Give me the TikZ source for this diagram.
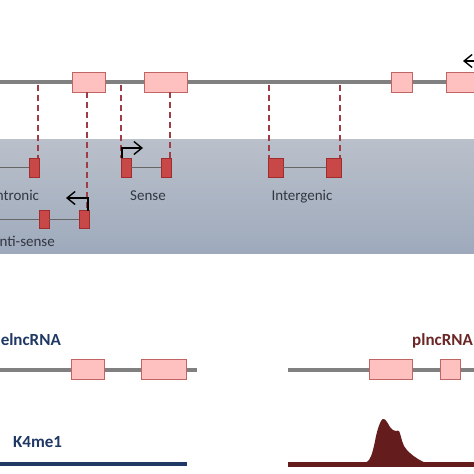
\documentclass[tikz,border=0pt]{standalone}
\usepackage{fontspec}
\setmainfont{Carlito}
\usetikzlibrary{arrows.meta}
\definecolor{geneline}{RGB}{128,128,128}
\definecolor{exonfill}{RGB}{255,192,192}
\definecolor{exonedge}{RGB}{192,100,100}
\definecolor{smfill}{RGB}{200,72,72}
\definecolor{smedge}{RGB}{160,45,45}
\definecolor{dashcol}{RGB}{160,60,70}
\definecolor{bandtop}{RGB}{186,192,202}
\definecolor{bandbot}{RGB}{158,170,188}
\definecolor{navy}{RGB}{31,56,100}
\definecolor{brownred}{RGB}{107,38,38}
\definecolor{peakcol}{RGB}{100,28,28}
\definecolor{txtcol}{RGB}{50,55,65}
\begin{document}
\begin{tikzpicture}[x=1pt,y=-1pt,
  exon/.style={draw=exonedge,fill=exonfill,line width=0.8pt,minimum height=20pt,inner sep=0pt},
  small/.style={draw=smedge,fill=smfill,line width=0.8pt,minimum height=19pt,minimum width=10pt,inner sep=0pt},
  gline/.style={draw=geneline,line width=4.5pt},
  thin/.style={draw=geneline!80!black,line width=0.9pt},
  dashl/.style={draw=dashcol,line width=1.6pt,dash pattern=on 6pt off 4pt},
  bent/.style={draw=black,line width=1.4pt,-{Straight Barb[length=8pt,width=13pt]}},
  lab/.style={font=\fontsize{15}{18}\selectfont,text=txtcol,inner sep=0pt},
  blab/.style={font=\fontsize{17}{20}\selectfont\bfseries,inner sep=0pt}
]
\useasboundingbox (0,0) rectangle (474,474);
\clip (0,0) rectangle (474,474);
% band
\shade[top color=bandtop,bottom color=bandbot] (0,139) rectangle (474,253);
% top gene
\coordinate (gl0) at (0,82);
\coordinate (gl1) at (474,82);
\draw[gline] (gl0) -- (gl1);
\node[exon,minimum width=33pt] (e1) at (88.5,82) {};
\node[exon,minimum width=43pt] (e2) at (165.5,82) {};
\node[exon,minimum width=21pt] (e3) at (401.5,82) {};
\node[exon,minimum width=44pt] (e4) at (468,82) {};
% top right arrow
\coordinate (ta0) at (490,61);
\coordinate (ta1) at (463,61);
\draw[bent] (ta0) -- (ta1);
% small transcripts
\coordinate (il0) at (0,167.5);
\node[small] (i1) at (34,167.5) {};
\draw[thin] (il0) -- (i1.west);
\node[small] (s1) at (126,167.5) {};
\node[small] (s2) at (166,167.5) {};
\draw[thin] (s1.east) -- (s2.west);
\coordinate (al0) at (0,219);
\node[small,minimum height=18pt] (a1) at (44,219) {};
\node[small,minimum height=18pt] (a2) at (84,219) {};
\draw[thin] (al0) -- (a1.west);
\draw[thin] (a1.east) -- (a2.west);
\node[small,minimum width=15pt] (g1) at (275.5,167.5) {};
\node[small,minimum width=15pt] (g2) at (333.5,167.5) {};
\draw[thin] (g1.east) -- (g2.west);
% dashed lines
\coordinate (d1a) at (38,84.5); \coordinate (d1b) at (38,158);
\coordinate (d2a) at (87,92); \coordinate (d2b) at (87,210);
\coordinate (d3a) at (121,84.5); \coordinate (d3b) at (121,158);
\coordinate (d4a) at (170,92); \coordinate (d4b) at (170,158);
\coordinate (d5a) at (269,84.5); \coordinate (d5b) at (269,158);
\coordinate (d6a) at (340,84.5); \coordinate (d6b) at (340,158);
\foreach \p in {1,...,6} {\draw[dashl] (d\p a) -- (d\p b);}
% bent arrows
\coordinate (sa0) at (122,158);
\coordinate (sa1) at (122,148);
\coordinate (sa2) at (143,148);
\draw[bent] (sa0) -- (sa1) -- (sa2);
\coordinate (aa0) at (88,211);
\coordinate (aa1) at (88,198);
\coordinate (aa2) at (66,198);
\draw[bent] (aa0) -- (aa1) -- (aa2);
% labels
\node[lab,anchor=base east] (tintr) at (39.3,200) {Intronic};
\node[lab,anchor=base] (tsense) at (148,200) {Sense};
\node[lab,anchor=base] (tinter) at (302,200) {Intergenic};
\node[lab,anchor=base east] (tanti) at (55,246) {Anti-sense};
% bottom left
\node[blab,text=navy,anchor=base east] (tel) at (61,345) {elncRNA};
\coordinate (bl0) at (0,370); \coordinate (bl1) at (197,370);
\draw[gline] (bl0) -- (bl1);
\node[exon,minimum width=33pt] (b1) at (87.5,369) {};
\node[exon,minimum width=45pt] (b2) at (163.5,369) {};
\node[blab,text=navy,anchor=base west] (tk4) at (13,447) {K4me1};
\coordinate (nl0) at (0,464); \coordinate (nl1) at (187,464);
\draw[draw=navy,line width=4.5pt] (nl0) -- (nl1);
% bottom right
\node[blab,text=brownred,anchor=base west] (tpl) at (412,345) {plncRNA};
\coordinate (br0) at (288,370); \coordinate (br1) at (474,370);
\draw[gline] (br0) -- (br1);
\node[exon,minimum width=43pt] (c1) at (390.5,369) {};
\node[exon,minimum width=20pt] (c2) at (450,369) {};
\coordinate (pb0) at (288,464.5); \coordinate (pb1) at (474,464.5);
\draw[draw=peakcol,line width=4.5pt] (pb0) -- (pb1);
\fill[peakcol] plot[smooth,tension=0.6] coordinates {(362,464) (369,460) (373,450) (377,432) (381,421) (384,419) (387,422) (390,427) (393,430) (396,431) (399,431) (401,437) (404,446) (410,453) (418,459) (428,464)} -- cycle;
\end{tikzpicture}
\end{document}
